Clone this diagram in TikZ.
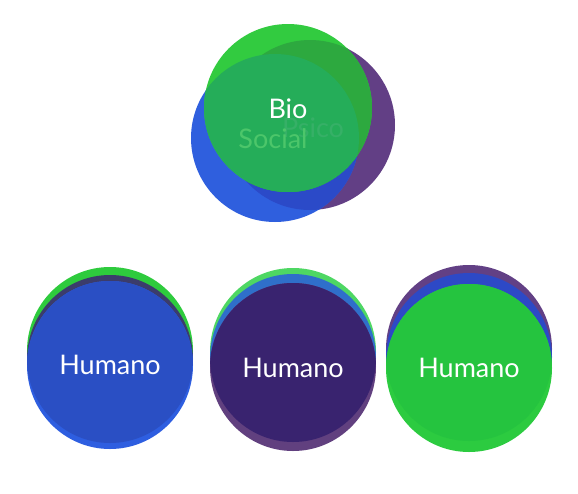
\documentclass[tikz,border=0pt]{standalone}
\usepackage{fontspec}
\setmainfont{Lato}
\definecolor{psicoC}{HTML}{623F85}
\definecolor{socialC}{HTML}{2F5FDE}
\definecolor{bioC}{HTML}{32CB40}
\definecolor{socialPsico}{HTML}{2B4AC8}
\definecolor{bioPsico}{HTML}{2DA93F}
\definecolor{bioSocial}{HTML}{25AD59}
\definecolor{txtSocial}{HTML}{4CC66A}
\definecolor{txtPsico}{HTML}{36B067}
\definecolor{verdeA}{HTML}{2ECB3D}
\definecolor{azulA}{HTML}{3B3C6C}
\definecolor{frenteA}{HTML}{2A4FC4}
\definecolor{bordeA}{HTML}{2E5EE0}
\definecolor{verdeB}{HTML}{4ED763}
\definecolor{azulB}{HTML}{2F6FCA}
\definecolor{frenteB}{HTML}{39236F}
\definecolor{bordeB}{HTML}{61407F}
\definecolor{verdeC}{HTML}{624085}
\definecolor{azulC}{HTML}{2D49C6}
\definecolor{frenteC}{HTML}{25C43F}
\definecolor{bordeC}{HTML}{2CCB40}

\begin{document}
\begin{tikzpicture}[x=1pt,y=-1pt,
  etiqueta/.style={font=\fontsize{27}{31}\selectfont, inner sep=0pt}]
  \useasboundingbox (0,0) rectangle (578,493);

  % Bio Psico Social
  \fill[psicoC] (310,125) circle (85);
  \fill[socialC] (275,138) circle (84);
  \begin{scope}
    \clip (275,138) circle (84);
    \fill[socialPsico] (310,125) circle (85);
  \end{scope}
  \fill[bioC] (288,108) circle (84);
  \begin{scope}
    \clip (288,108) circle (84);
    \fill[bioPsico] (310,125) circle (85);
    \fill[bioSocial] (275,138) circle (84);
  \end{scope}
  \node[etiqueta, text=txtPsico] (psico) at (313,128) {Psico};
  \node[etiqueta, text=txtSocial] (social) at (273,139) {Social};
  \node[etiqueta, text=white] (bio) at (288,109) {Bio};

  % Humano
  \foreach \i/\cx/\ya/\yb/\yc/\yt/\fa/\fb/\fc/\fd in
    {1/110/351/359/365/365/verdeA/azulA/frenteA/bordeA,
     2/293/352/358/367/368/verdeB/azulB/frenteB/bordeB,
     3/469/349/357/368/368/verdeC/azulC/frenteC/bordeC} {
    \fill[\fa] (\cx,\ya) ellipse (83 and 84);
    \fill[\fb] (\cx,\yb) ellipse (83 and 84);
    \fill[\fd] (\cx,\yc) ellipse (83 and 84);
    \begin{scope}
      \clip (\cx,\yb) ellipse (83 and 84);
      \fill[\fc] (\cx,\yc) ellipse (83 and 84);
    \end{scope}
    \node[etiqueta, text=white] (hum\i) at (\cx,\yt) {Humano};
  }
\end{tikzpicture}
\end{document}
